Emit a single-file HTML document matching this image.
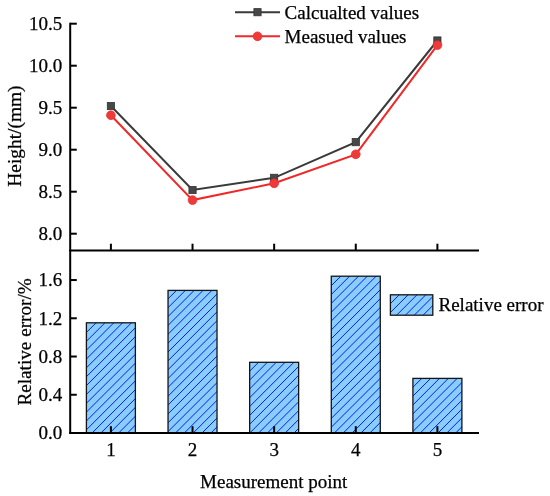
<!DOCTYPE html><html><head><meta charset="utf-8"><style>html,body{margin:0;padding:0;background:#fff;}svg{display:block;}</style></head><body>
<svg width="550" height="496" viewBox="0 0 550 496">
<rect width="550" height="496" fill="#fff"/>
<clipPath id="c0"><rect x="86.41" y="322.80" width="48.98" height="110.20"/></clipPath>
<rect x="86.41" y="322.80" width="48.98" height="110.20" fill="#88cefa"/>
<path clip-path="url(#c0)" d="M-16.14,435.00L98.06,320.80M-7.29,435.00L106.91,320.80M1.56,435.00L115.76,320.80M10.41,435.00L124.61,320.80M19.26,435.00L133.46,320.80M28.11,435.00L142.31,320.80M36.96,435.00L151.16,320.80M45.81,435.00L160.01,320.80M54.66,435.00L168.86,320.80M63.51,435.00L177.71,320.80M72.36,435.00L186.56,320.80M81.21,435.00L195.41,320.80M90.06,435.00L204.26,320.80M98.91,435.00L213.11,320.80M107.76,435.00L221.96,320.80M116.61,435.00L230.81,320.80M125.46,435.00L239.66,320.80M134.31,435.00L248.51,320.80" stroke="#1414ff" stroke-width="1.0" fill="none"/>
<rect x="86.41" y="322.80" width="48.98" height="110.20" fill="none" stroke="#141414" stroke-width="1.3"/>
<clipPath id="c1"><rect x="168.04" y="290.40" width="48.98" height="142.60"/></clipPath>
<rect x="168.04" y="290.40" width="48.98" height="142.60" fill="#88cefa"/>
<path clip-path="url(#c1)" d="M31.89,435.00L178.49,288.40M40.74,435.00L187.34,288.40M49.59,435.00L196.19,288.40M58.44,435.00L205.04,288.40M67.29,435.00L213.89,288.40M76.14,435.00L222.74,288.40M84.99,435.00L231.59,288.40M93.84,435.00L240.44,288.40M102.69,435.00L249.29,288.40M111.54,435.00L258.14,288.40M120.39,435.00L266.99,288.40M129.24,435.00L275.84,288.40M138.09,435.00L284.69,288.40M146.94,435.00L293.54,288.40M155.79,435.00L302.39,288.40M164.64,435.00L311.24,288.40M173.49,435.00L320.09,288.40M182.34,435.00L328.94,288.40M191.19,435.00L337.79,288.40M200.04,435.00L346.64,288.40M208.89,435.00L355.49,288.40" stroke="#1414ff" stroke-width="1.0" fill="none"/>
<rect x="168.04" y="290.40" width="48.98" height="142.60" fill="none" stroke="#141414" stroke-width="1.3"/>
<clipPath id="c2"><rect x="249.66" y="362.30" width="48.98" height="70.70"/></clipPath>
<rect x="249.66" y="362.30" width="48.98" height="70.70" fill="#88cefa"/>
<path clip-path="url(#c2)" d="M185.81,435.00L260.51,360.30M194.66,435.00L269.36,360.30M203.51,435.00L278.21,360.30M212.36,435.00L287.06,360.30M221.21,435.00L295.91,360.30M230.06,435.00L304.76,360.30M238.91,435.00L313.61,360.30M247.76,435.00L322.46,360.30M256.61,435.00L331.31,360.30M265.46,435.00L340.16,360.30M274.31,435.00L349.01,360.30M283.16,435.00L357.86,360.30M292.01,435.00L366.71,360.30" stroke="#1414ff" stroke-width="1.0" fill="none"/>
<rect x="249.66" y="362.30" width="48.98" height="70.70" fill="none" stroke="#141414" stroke-width="1.3"/>
<clipPath id="c3"><rect x="331.29" y="276.20" width="48.98" height="156.80"/></clipPath>
<rect x="331.29" y="276.20" width="48.98" height="156.80" fill="#88cefa"/>
<path clip-path="url(#c3)" d="M181.94,435.00L342.74,274.20M190.79,435.00L351.59,274.20M199.64,435.00L360.44,274.20M208.49,435.00L369.29,274.20M217.34,435.00L378.14,274.20M226.19,435.00L386.99,274.20M235.04,435.00L395.84,274.20M243.89,435.00L404.69,274.20M252.74,435.00L413.54,274.20M261.59,435.00L422.39,274.20M270.44,435.00L431.24,274.20M279.29,435.00L440.09,274.20M288.14,435.00L448.94,274.20M296.99,435.00L457.79,274.20M305.84,435.00L466.64,274.20M314.69,435.00L475.49,274.20M323.54,435.00L484.34,274.20M332.39,435.00L493.19,274.20M341.24,435.00L502.04,274.20M350.09,435.00L510.89,274.20M358.94,435.00L519.74,274.20M367.79,435.00L528.59,274.20M376.64,435.00L537.44,274.20" stroke="#1414ff" stroke-width="1.0" fill="none"/>
<rect x="331.29" y="276.20" width="48.98" height="156.80" fill="none" stroke="#141414" stroke-width="1.3"/>
<clipPath id="c4"><rect x="412.91" y="378.40" width="48.98" height="54.60"/></clipPath>
<rect x="412.91" y="378.40" width="48.98" height="54.60" fill="#88cefa"/>
<path clip-path="url(#c4)" d="M365.16,435.00L423.76,376.40M374.01,435.00L432.61,376.40M382.86,435.00L441.46,376.40M391.71,435.00L450.31,376.40M400.56,435.00L459.16,376.40M409.41,435.00L468.01,376.40M418.26,435.00L476.86,376.40M427.11,435.00L485.71,376.40M435.96,435.00L494.56,376.40M444.81,435.00L503.41,376.40M453.66,435.00L512.26,376.40" stroke="#1414ff" stroke-width="1.0" fill="none"/>
<rect x="412.91" y="378.40" width="48.98" height="54.60" fill="none" stroke="#141414" stroke-width="1.3"/>
<g stroke="#000" stroke-width="2" fill="none">
<line x1="70.2" y1="22.7" x2="70.2" y2="434.0"/>
<line x1="69.2" y1="250.5" x2="479.0" y2="250.5"/>
<line x1="69.2" y1="433.0" x2="479.0" y2="433.0"/>
<line x1="70.2" y1="23.70" x2="76.8" y2="23.70"/>
<line x1="70.2" y1="65.70" x2="76.8" y2="65.70"/>
<line x1="70.2" y1="107.70" x2="76.8" y2="107.70"/>
<line x1="70.2" y1="149.70" x2="76.8" y2="149.70"/>
<line x1="70.2" y1="191.70" x2="76.8" y2="191.70"/>
<line x1="70.2" y1="233.70" x2="76.8" y2="233.70"/>
<line x1="70.2" y1="394.76" x2="76.8" y2="394.76"/>
<line x1="70.2" y1="356.52" x2="76.8" y2="356.52"/>
<line x1="70.2" y1="318.28" x2="76.8" y2="318.28"/>
<line x1="70.2" y1="280.04" x2="76.8" y2="280.04"/>
<line x1="110.90" y1="250.5" x2="110.90" y2="243.7"/>
<line x1="110.90" y1="433.0" x2="110.90" y2="426.2"/>
<line x1="192.53" y1="250.5" x2="192.53" y2="243.7"/>
<line x1="192.53" y1="433.0" x2="192.53" y2="426.2"/>
<line x1="274.15" y1="250.5" x2="274.15" y2="243.7"/>
<line x1="274.15" y1="433.0" x2="274.15" y2="426.2"/>
<line x1="355.77" y1="250.5" x2="355.77" y2="243.7"/>
<line x1="355.77" y1="433.0" x2="355.77" y2="426.2"/>
<line x1="437.40" y1="250.5" x2="437.40" y2="243.7"/>
<line x1="437.40" y1="433.0" x2="437.40" y2="426.2"/>
</g>
<g font-family="Liberation Serif, serif" font-size="19" stroke="#000" stroke-width="0.25" fill="#000" text-anchor="end">
<text x="62.3" y="29.70">10.5</text>
<text x="62.3" y="71.70">10.0</text>
<text x="62.3" y="113.70">9.5</text>
<text x="62.3" y="155.70">9.0</text>
<text x="62.3" y="197.70">8.5</text>
<text x="62.3" y="239.70">8.0</text>
<text x="62.3" y="439.30">0.0</text>
<text x="62.3" y="401.06">0.4</text>
<text x="62.3" y="362.82">0.8</text>
<text x="62.3" y="324.58">1.2</text>
<text x="62.3" y="286.34">1.6</text>
</g>
<g font-family="Liberation Serif, serif" font-size="19" stroke="#000" stroke-width="0.25" fill="#000" text-anchor="middle">
<text x="110.90" y="455.8">1</text>
<text x="192.53" y="455.8">2</text>
<text x="274.15" y="455.8">3</text>
<text x="355.77" y="455.8">4</text>
<text x="437.40" y="455.8">5</text>
<text x="273.7" y="487.8">Measurement point</text>
</g>
<text font-family="Liberation Serif, serif" font-size="19.4" stroke="#000" stroke-width="0.25" fill="#000" text-anchor="middle" transform="translate(21.3,136.1) rotate(-90)">Height/(mm)</text>
<text font-family="Liberation Serif, serif" font-size="19.2" stroke="#000" stroke-width="0.25" fill="#000" text-anchor="middle" transform="translate(31.2,341.9) rotate(-90)">Relative error/%</text>
<polyline points="110.90,106.02 192.53,190.02 274.15,177.84 355.77,142.14 437.40,40.50" fill="none" stroke="#3a3a3a" stroke-width="2"/>
<rect x="107.30" y="102.42" width="7.2" height="7.2" fill="#474747" stroke="#333" stroke-width="0.8"/>
<rect x="188.93" y="186.42" width="7.2" height="7.2" fill="#474747" stroke="#333" stroke-width="0.8"/>
<rect x="270.55" y="174.24" width="7.2" height="7.2" fill="#474747" stroke="#333" stroke-width="0.8"/>
<rect x="352.17" y="138.54" width="7.2" height="7.2" fill="#474747" stroke="#333" stroke-width="0.8"/>
<rect x="433.80" y="36.90" width="7.2" height="7.2" fill="#474747" stroke="#333" stroke-width="0.8"/>
<polyline points="110.90,115.26 192.53,200.10 274.15,183.30 355.77,154.32 437.40,45.12" fill="none" stroke="#f02828" stroke-width="2"/>
<circle cx="110.90" cy="115.26" r="4.4" fill="#ef3a3a" stroke="#ea2c2c" stroke-width="0.7"/>
<circle cx="192.53" cy="200.10" r="4.4" fill="#ef3a3a" stroke="#ea2c2c" stroke-width="0.7"/>
<circle cx="274.15" cy="183.30" r="4.4" fill="#ef3a3a" stroke="#ea2c2c" stroke-width="0.7"/>
<circle cx="355.77" cy="154.32" r="4.4" fill="#ef3a3a" stroke="#ea2c2c" stroke-width="0.7"/>
<circle cx="437.40" cy="45.12" r="4.4" fill="#ef3a3a" stroke="#ea2c2c" stroke-width="0.7"/>
<line x1="235" y1="12.2" x2="280" y2="12.2" stroke="#3a3a3a" stroke-width="2"/>
<rect x="253.9" y="8.6" width="7.2" height="7.2" fill="#474747" stroke="#333" stroke-width="0.8"/>
<line x1="235" y1="36.3" x2="280" y2="36.3" stroke="#f02828" stroke-width="2"/>
<circle cx="257.5" cy="36.3" r="4.4" fill="#ef3a3a" stroke="#ea2c2c" stroke-width="0.7"/>
<text font-family="Liberation Serif, serif" font-size="19" stroke="#000" stroke-width="0.25" fill="#000" x="284.6" y="19.3">Calcualted values</text>
<text font-family="Liberation Serif, serif" font-size="19" stroke="#000" stroke-width="0.25" fill="#000" x="284.6" y="42.6">Measued values</text>
<clipPath id="cl"><rect x="390.40" y="294.80" width="42.40" height="20.40"/></clipPath>
<rect x="390.40" y="294.80" width="42.40" height="20.40" fill="#88cefa"/>
<path clip-path="url(#cl)" d="M376.85,317.20L401.25,292.80M385.70,317.20L410.10,292.80M394.55,317.20L418.95,292.80M403.40,317.20L427.80,292.80M412.25,317.20L436.65,292.80M421.10,317.20L445.50,292.80M429.95,317.20L454.35,292.80" stroke="#1414ff" stroke-width="1.0" fill="none"/>
<rect x="390.40" y="294.80" width="42.40" height="20.40" fill="none" stroke="#141414" stroke-width="1.3"/>
<text font-family="Liberation Serif, serif" font-size="19" stroke="#000" stroke-width="0.25" fill="#000" x="438.5" y="310.9">Relative error</text>
</svg></body></html>
